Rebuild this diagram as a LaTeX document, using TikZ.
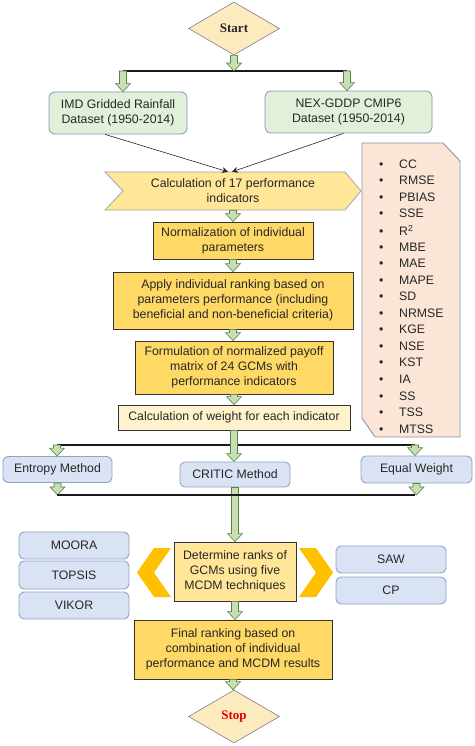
\documentclass[tikz,border=0pt]{standalone}
\usepackage{fontspec}
\setmainfont{Liberation Sans}
\newfontfamily\termfont{Liberation Serif}
\usetikzlibrary{shapes.geometric,arrows.meta,calc}

\definecolor{termfill}{HTML}{FDEBC0}
\definecolor{datafill}{HTML}{E2F0D9}
\definecolor{databorder}{HTML}{8496B0}
\definecolor{stepfill}{HTML}{FFD966}
\definecolor{lightfill}{HTML}{FFE699}
\definecolor{weightfill}{HTML}{FFF2CC}
\definecolor{methodfill}{HTML}{DAE3F3}
\definecolor{methodborder}{HTML}{8FA2C8}
\definecolor{listfill}{HTML}{FBE5D6}
\definecolor{arrowfill}{HTML}{C5E0B4}
\definecolor{arrowedge}{HTML}{5B7F45}
\definecolor{chevron}{HTML}{FFC000}
\definecolor{stopred}{HTML}{E00000}

\begin{document}
\begin{tikzpicture}[x=1pt,y=-1pt,font=\fontsize{12.3}{15.2}\selectfont,text=black!85]
	\tikzstyle{terminal}=[diamond,draw=black!45,fill=termfill,line width=0.7pt,minimum width=91pt,minimum height=53pt,inner sep=0pt,font=\termfont\bfseries\fontsize{13}{15}\selectfont]
	\tikzstyle{databox}=[rectangle,rounded corners=6pt,draw=databorder,fill=datafill,line width=0.8pt,align=center,minimum height=42pt]
	\tikzstyle{stepbox}=[rectangle,draw=black!80,fill=stepfill,line width=0.8pt,align=center,inner sep=2pt]
	\tikzstyle{methodbox}=[rectangle,rounded corners=5pt,draw=methodborder,fill=methodfill,line width=0.9pt,minimum width=110pt,minimum height=27pt]
	\tikzstyle{hline}=[black!90,line width=1.2pt]
	\tikzstyle{thin}=[black!85,line width=0.6pt,-{Stealth[length=6pt,width=6pt]}]
	\tikzstyle{garrow}=[draw=arrowedge,fill=arrowfill,line width=0.6pt,
		to path={let \p1=(\tikztostart),\p2=(\tikztotarget) in
			(\x1-3.5pt,\y1) -- (\x1-3.5pt,\y2+8pt) -- (\x1-7.5pt,\y2+8pt) -- (\x1,\y2)
			-- (\x1+7.5pt,\y2+8pt) -- (\x1+3.5pt,\y2+8pt) -- (\x1+3.5pt,\y1) -- cycle}]

	\useasboundingbox (0,0) rectangle (474,746);

	% start and the two data sets
	\node[terminal] (start) at (234,28.5) {Start};
	\node[databox,minimum width=138pt] (imd) at (118,113) {IMD Gridded Rainfall\\Dataset (1950-2014)};
	\node[databox,minimum width=167pt] (nex) at (348.5,112) {NEX-GDDP CMIP6\\Dataset (1950-2014)};
	\coordinate (split) at (234,71);
	\coordinate (splitL) at (123,71);
	\coordinate (splitR) at (347,71);

	% indicator list
	\draw[draw=databorder,fill=listfill,line width=0.9pt] (362,143) -- (443,143) -- (460,161) -- (460,437) -- (375,437) -- (362,418) -- cycle;
	\foreach \name [count=\i from 0] in {CC,RMSE,PBIAS,SSE,R\textsuperscript{2},MBE,MAE,MAPE,SD,NRMSE,KGE,NSE,KST,IA,SS,TSS,MTSS}
		\node[anchor=west,inner sep=0pt] (ind\i) at (379,164+16.56*\i) {\makebox[20pt][l]{\textbullet}\name};

	% main steps
	\draw[draw=black!35,fill=lightfill,line width=0.8pt] (105,172) -- (345,172) -- (361,191) -- (345,210) -- (105,210) -- (123,191) -- cycle;
	\node[align=center,minimum width=220pt,minimum height=38pt,inner sep=0pt] (calc) at (233,191) {Calculation of 17 performance\\indicators};
	\node[stepbox,minimum width=160pt,minimum height=37pt] (norm) at (233,240.5) {Normalization of individual\\parameters};
	\node[stepbox,minimum width=240pt,minimum height=57pt] (rank) at (233,300.5) {Apply individual ranking based on\\parameters performance (including\\beneficial and non-beneficial criteria)};
	\node[stepbox,minimum width=198pt,minimum height=53pt] (payoff) at (234,367.5) {Formulation of normalized payoff\\matrix of 24 GCMs with\\performance indicators};
	\node[stepbox,fill=weightfill,minimum width=232pt,minimum height=25pt] (weight) at (234,417.5) {Calculation of weight for each indicator};

	% weighting methods
	\node[methodbox,minimum width=109pt,minimum height=26pt] (entropy) at (57.5,469.5) {Entropy Method};
	\node[methodbox,minimum height=25pt] (critic) at (235,474.5) {CRITIC Method};
	\node[methodbox,minimum width=111pt] (equal) at (416.5,469.5) {Equal Weight};
	\coordinate (tl) at (57,445);
	\coordinate (tr) at (415,445);
	\coordinate (bl) at (57,495);
	\coordinate (br) at (415,495);

	% MCDM techniques
	\node[stepbox,fill=lightfill,minimum width=122pt,minimum height=59pt] (mcdm) at (235,571.5) {Determine ranks of\\GCMs using five\\MCDM techniques};
	\node[methodbox] (moora) at (74,545.5) {MOORA};
	\node[methodbox,minimum height=28pt] (topsis) at (74,575) {TOPSIS};
	\node[methodbox] (vikor) at (74,605.5) {VIKOR};
	\node[methodbox] (saw) at (391,559.5) {SAW};
	\node[methodbox] (cp) at (391,590.5) {CP};
	\fill[chevron] (171,548) -- (154,548) -- (137,572.5) -- (154,597) -- (171,597) -- (154,572.5) -- cycle;
	\fill[chevron] (299,548) -- (316,548) -- (333,572.5) -- (316,597) -- (299,597) -- (316,572.5) -- cycle;

	\node[stepbox,minimum width=198pt,minimum height=59pt] (final) at (233,649.5) {Final ranking based on\\combination of individual\\performance and MCDM results};
	\node[terminal,text=stopred] (stop) at (234,716.5) {Stop};

	% connectors
	\draw[hline] (splitL) -- (splitR);
	\draw[hline] (tl) -- (tr);
	\draw[garrow] (start.south) to (split);
	\draw[garrow] (splitL) to (imd.north);
	\draw[garrow] (splitR) to (nex.north);
	\draw[thin] ([xshift=-13pt]imd.south) -- ([xshift=-5pt]calc.north);
	\draw[thin] ([xshift=-5pt]nex.south) -- ([xshift=-1pt]calc.north);
	\draw[garrow] (calc.south) to (norm.north);
	\draw[garrow] (norm.south) to (rank.north);
	\draw[garrow] (rank.south) to (payoff.north);
	\draw[garrow] (payoff.south) to (weight.north);
	\draw[garrow] (weight.south) to (critic.north);
	\draw[garrow] (tl) to (entropy.north);
	\draw[garrow] (tr) to (equal.north);
	\draw[garrow] (entropy.south) to (bl);
	\draw[garrow] (equal.south) to (br);
	\draw[garrow] (critic.south) to (mcdm.north);
	\draw[hline] (bl) -- (br);
	\draw[garrow] (mcdm.south) to (final.north);
	\draw[garrow] (final.south) to (stop.north);
\end{tikzpicture}
\end{document}
